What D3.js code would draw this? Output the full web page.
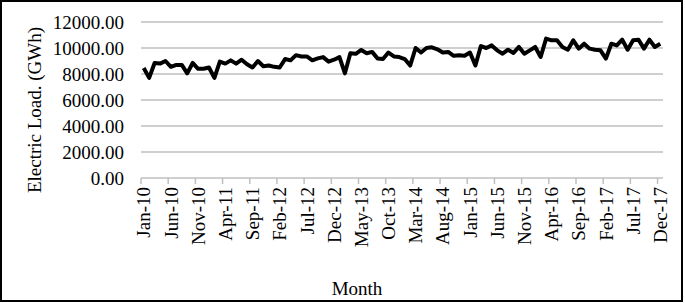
<!DOCTYPE html>
<html>
<head>
<meta charset="utf-8">
<script src="https://cdn.jsdelivr.net/npm/d3@7"></script>
<style>
  body { margin: 0; background: #fff; }
  text { font-family: "Liberation Serif", "Times New Roman", serif; fill: #000; }
</style>
</head>
<body>
<div id="chart"></div>
<script>

// Month labels Jan-10 .. Dec-17
const monthNames = ["Jan", "Feb", "Mar", "Apr", "May", "Jun", "Jul", "Aug", "Sep", "Oct", "Nov", "Dec"];
const years = ["10", "11", "12", "13", "14", "15", "16", "17"];
const months = [];
years.forEach(y => monthNames.forEach(m => months.push(m + "-" + y)));

// Electric load (GWh)
const load2010 = [8460, 7700, 8850, 8800, 9000, 8550, 8700, 8700, 8050, 8850, 8400, 8400];
const load2011 = [8500, 7700, 8950, 8800, 9050, 8800, 9100, 8750, 8500, 9000, 8600, 8650];
const load2012 = [8550, 8500, 9150, 9050, 9450, 9350, 9350, 9050, 9200, 9300, 8950, 9100];
const load2013 = [9300, 8050, 9600, 9550, 9850, 9600, 9700, 9200, 9150, 9650, 9350, 9300];
const load2014 = [9150, 8650, 10000, 9650, 10000, 10050, 9900, 9650, 9700, 9400, 9450, 9400];
const load2015 = [9650, 8650, 10150, 10000, 10200, 9820, 9560, 9870, 9620, 10080, 9560, 9820];
const load2016 = [10080, 9310, 10720, 10590, 10590, 10080, 9870, 10590, 9950, 10330, 9950, 9870];
const load2017 = [9820, 9180, 10330, 10200, 10640, 9870, 10590, 10640, 9950, 10640, 10080, 10330];
const load = [].concat(load2010, load2011, load2012, load2013, load2014, load2015, load2016, load2017);

const yTicks = [0, 2000, 4000, 6000, 8000, 10000, 12000];

const W = 685, H = 303;
const plot = { left: 141, right: 663, top: 22, bottom: 178 };

const svg = d3.select("#chart").append("svg")
    .attr("width", W)
    .attr("height", H);

// outer frame
svg.append("rect")
    .attr("x", 1).attr("y", 1)
    .attr("width", 681).attr("height", 300)
    .attr("fill", "#fff")
    .attr("stroke", "#000")
    .attr("stroke-width", 2);

const x = d3.scaleBand()
    .domain(months)
    .range([plot.left, plot.right])
    .padding(0);

const y = d3.scaleLinear()
    .domain([0, 12000])
    .range([plot.bottom, plot.top]);

// gridlines
svg.append("g")
    .selectAll("line")
    .data(yTicks)
    .enter().append("line")
    .attr("x1", plot.left)
    .attr("x2", plot.right)
    .attr("y1", d => y(d))
    .attr("y2", d => y(d))
    .attr("stroke", "#bfbfbf")
    .attr("stroke-width", 1.5);

// y labels
svg.append("g")
    .selectAll("text")
    .data(yTicks)
    .enter().append("text")
    .attr("x", 124)
    .attr("y", d => y(d))
    .attr("dy", "0.35em")
    .attr("text-anchor", "end")
    .style("font-size", "19px")
    .text(d => d3.format(".2f")(d));

// x tick marks at the left edge of every 5th month
const tickMonths = months.filter((m, i) => i % 5 === 0);

svg.append("g")
    .selectAll("line")
    .data(tickMonths)
    .enter().append("line")
    .attr("x1", d => x(d))
    .attr("x2", d => x(d))
    .attr("y1", plot.bottom)
    .attr("y2", plot.bottom + 6)
    .attr("stroke", "#bfbfbf")
    .attr("stroke-width", 1.5);

// x labels, rotated
svg.append("g")
    .selectAll("text")
    .data(tickMonths)
    .enter().append("text")
    .attr("transform", d => `translate(${x(d) + x.bandwidth() / 2},187) rotate(-90)`)
    .attr("dy", "0.35em")
    .attr("text-anchor", "end")
    .style("font-size", "19px")
    .text(d => d);

// line
const line = d3.line()
    .x((d, i) => x(months[i]) + x.bandwidth() / 2)
    .y(d => y(d));

svg.append("path")
    .datum(load)
    .attr("d", line)
    .attr("fill", "none")
    .attr("stroke", "#000")
    .attr("stroke-width", 4)
    .attr("stroke-linejoin", "round");

// axis titles
svg.append("text")
    .attr("transform", "translate(41,110) rotate(-90)")
    .attr("text-anchor", "middle")
    .style("font-size", "19px")
    .text("Electric Load. (GWh)");

svg.append("text")
    .attr("x", 357)
    .attr("y", 295)
    .attr("text-anchor", "middle")
    .style("font-size", "19px")
    .text("Month");
</script>
</body>
</html>
